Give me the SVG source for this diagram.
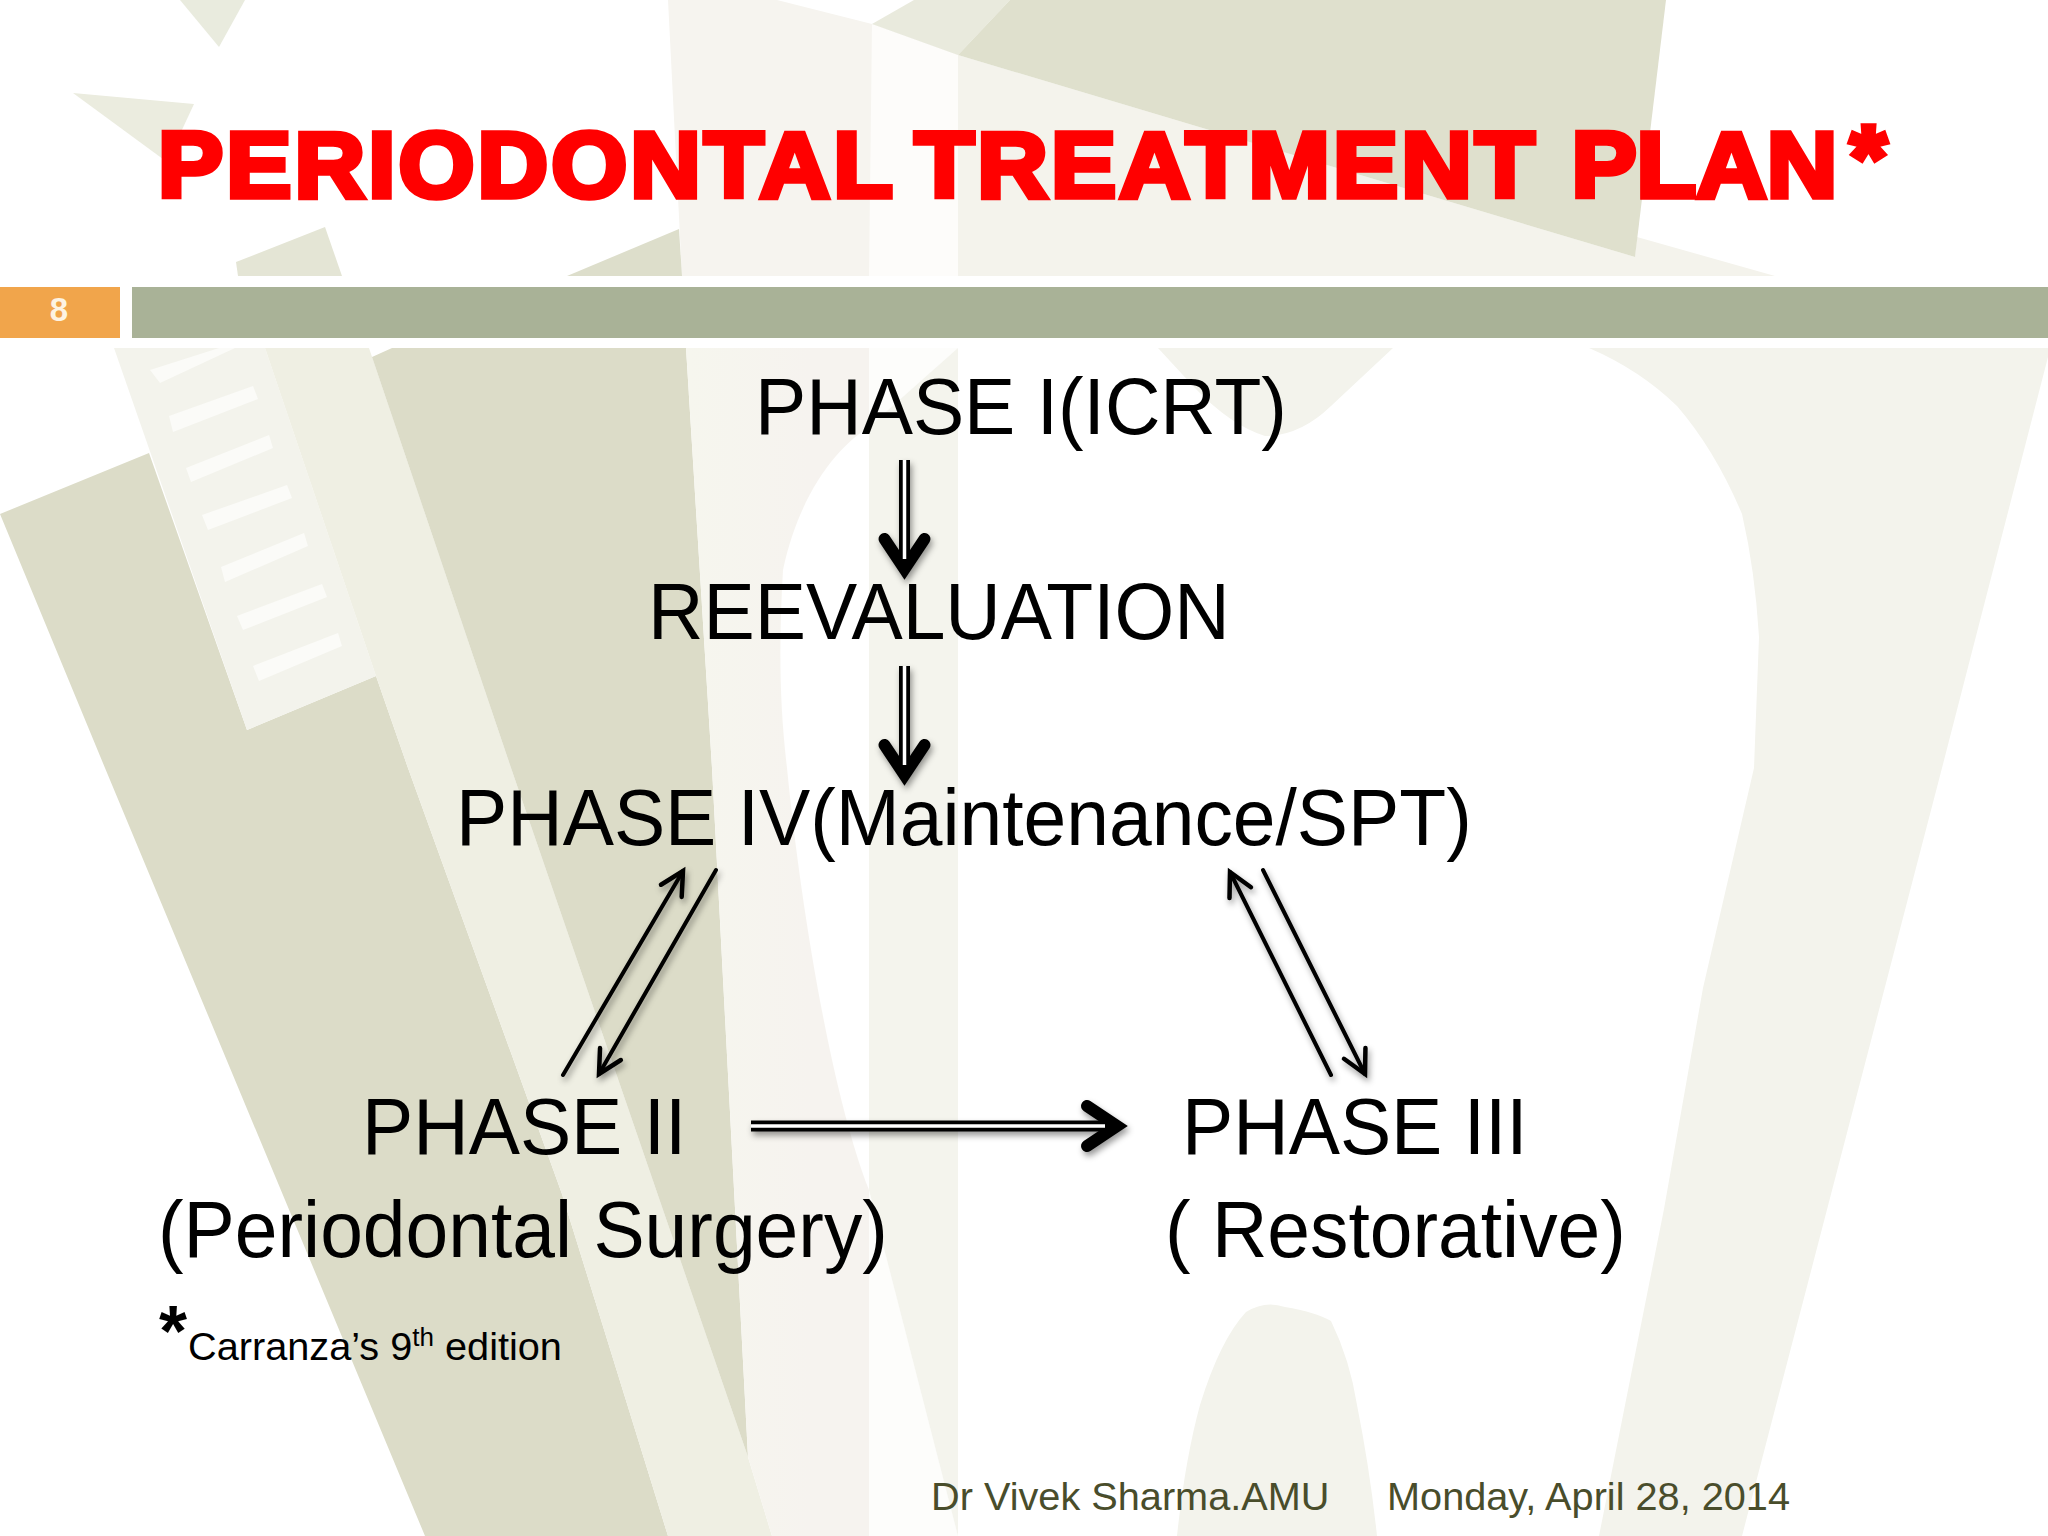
<svg xmlns="http://www.w3.org/2000/svg" width="2048" height="1536" viewBox="0 0 2048 1536">
<defs>
<style>
.n{font-family:"Liberation Sans",Arial,sans-serif;font-size:80px;fill:#000}
.foot{font-family:"Liberation Sans",Arial,sans-serif;font-size:39.7px;fill:#494d2b}
.thin{fill:none;stroke:#000;stroke-width:4;stroke-linecap:round;marker-end:url(#open)}
.thick{fill:none;stroke:#000;stroke-width:11;marker-end:url(#heavy)}
.gap{fill:none;stroke:#fff;stroke-width:3.5}
.rung{fill:#fbfbf8}
</style>
<linearGradient id="pink" gradientUnits="userSpaceOnUse" x1="690" y1="0" x2="810" y2="0">
<stop offset="0" stop-color="#f6f6ee"/><stop offset="1" stop-color="#f6f3ef"/>
</linearGradient>
<marker id="open" markerUnits="userSpaceOnUse" markerWidth="40" markerHeight="40" viewBox="-30 -20 40 40" refX="0" refY="0" orient="auto">
<path d="M-23,-12 L0,0 L-23,12" fill="none" stroke="#000" stroke-width="4.5" stroke-linecap="round" stroke-linejoin="miter"/>
</marker>
<marker id="heavy" markerUnits="userSpaceOnUse" markerWidth="80" markerHeight="80" viewBox="-60 -40 80 80" refX="0" refY="0" orient="auto">
<path d="M-30,-20 L0,0 L-30,20" fill="none" stroke="#000" stroke-width="12" stroke-linecap="round" stroke-linejoin="miter"/>
</marker>
<filter id="sh" x="0" y="0" width="2048" height="1536" filterUnits="userSpaceOnUse">
<feDropShadow dx="2" dy="4" stdDeviation="3" flood-color="#000" flood-opacity="0.4"/>
</filter>
</defs>
<rect width="2048" height="1536" fill="#fff"/>
<g id="background">
<polygon points="180,0 245,0 219,47" fill="#e9ebde"/>
<polygon points="73,93 194,104 167,162" fill="#ebecdf"/>
<polygon points="236,262 325,227 342,276 238,276" fill="#e4e5d5"/>
<polygon points="668,0 777,0 872,24 958,55 958,276 682,276" fill="#f6f4ef"/>
<polygon points="872,24 958,55 958,276 869,276" fill="#fdfcfa"/>
<polygon points="567,276 679,229 682,276" fill="#dddecb"/>
<polygon points="958,55 1635,257 1637,237 1775,276 958,276" fill="#f4f3ec"/>
<polygon points="872,24 914,0 1010,0 958,55" fill="#e9eadd"/>
<polygon points="1010,0 1666,0 1635,257 958,55" fill="#dfe0cd"/>

<polygon points="0,514 149,453 247,730 376,676 408,768 562,1194 668,1536 425,1536 105,768" fill="#dcdcc8"/>
<polygon points="114,348 265,348 376,676 247,730" fill="#f3f3ec"/>
<polygon points="265,348 369,348 511,768 748,1457 772,1536 668,1536 562,1194 408,768 376,676" fill="#efefe3"/>
<polygon points="372,357 392,348 686,348 712,768 748,1457 511,768" fill="#dcdcc8"/>
<path d="M686,348 H869 V427 C840,445 800,490 783,570 C779,640 779,700 787,768 C800,900 830,1090 869,1190 V1536 H772 L748,1457 L712,768 Z" fill="url(#pink)"/>
<polygon points="869,348 958,348 869,427" fill="#fdfdfb"/>
<polygon points="869,1190 958,1536 869,1536" fill="#fdfdfb"/>
<polygon points="958,348 958,1536 869,1190 869,427" fill="#f4f4ed"/>
<path d="M1158,348 H1393 L1331,406 Q1300,436 1265,436 Q1230,425 1194,387 Z" fill="#f3f3ec"/>
<path d="M1589,348 H2048 V357 L1942,768 L1742,1536 H1599 L1664,1209 L1703,988 L1754,768 L1759,637 Q1755,570 1742,514 Q1715,450 1677,406 Q1640,370 1589,348 Z" fill="#f3f3ec"/>
<path d="M1177,1536 Q1185,1460 1200,1405 Q1220,1340 1246,1312 Q1265,1300 1285,1307 Q1315,1312 1331,1321 Q1350,1360 1357,1405 Q1370,1470 1377,1536 Z" fill="#f3f3ec"/>
<polygon class="rung" points="150,370 219,348 235,348 160,383"/>
<polygon class="rung" points="169,416 253,386 258,399 173,432"/>
<polygon class="rung" points="186,468 269,435 273,448 191,482"/>
<polygon class="rung" points="202,515 287,485 292,498 208,530"/>
<polygon class="rung" points="221,567 304,533 308,546 225,582"/>
<polygon class="rung" points="237,616 322,584 327,597 243,630"/>
<polygon class="rung" points="253,666 338,633 342,646 259,681"/>
</g>
<g id="title-bar">
<rect x="0" y="287" width="120" height="51" fill="#f1a54b"/>
<text x="59" y="321" text-anchor="middle" font-family="'Liberation Sans',Arial,sans-serif" font-weight="bold" font-size="33" fill="#fdf3e3">8</text>
<rect x="132" y="287" width="1916" height="51" fill="#a9b297"/>
</g>
<g id="title">
<text transform="translate(0,197) scale(1.05,1)" font-family="'Liberation Sans',Arial,sans-serif" font-weight="bold" font-size="93" fill="#f00" stroke="#f00" stroke-width="5.5" stroke-linejoin="miter"><tspan x="150.5" y="0" letter-spacing="3">PERIODONTAL </tspan><tspan x="871" y="0" letter-spacing="3">TREATMENT </tspan><tspan x="1496.6" y="0">PLAN</tspan><tspan x="1762" y="-8" font-size="90">*</tspan></text>
</g>
<g id="connectors">
<g filter="url(#sh)">
<line class="thick" x1="904.5" y1="460" x2="904.5" y2="569"/>
<line class="gap" x1="904.5" y1="460" x2="904.5" y2="559"/>
</g>
<g filter="url(#sh)">
<line class="thick" x1="904.5" y1="666" x2="904.5" y2="775"/>
<line class="gap" x1="904.5" y1="666" x2="904.5" y2="765"/>
</g>
<g filter="url(#sh)">
<line class="thick" x1="751" y1="1126" x2="1117" y2="1126"/>
<line class="gap" x1="751" y1="1126" x2="1105" y2="1126"/>
</g>
<line class="thin" filter="url(#sh)" x1="563" y1="1075" x2="683" y2="871"/>
<line class="thin" filter="url(#sh)" x1="716" y1="870" x2="599" y2="1074"/>
<line class="thin" filter="url(#sh)" x1="1331" y1="1075" x2="1230" y2="872"/>
<line class="thin" filter="url(#sh)" x1="1263" y1="870" x2="1365" y2="1074"/>
</g>
<g id="phase1"><text class="n" transform="translate(755,434) scale(.96,1)">PHASE I(ICRT)</text></g>
<g id="reevaluation"><text class="n" transform="translate(648,639) scale(.96,1)">REEVALUATION</text></g>
<g id="phase4"><text class="n" transform="translate(456,845) scale(.96,1)">PHASE IV(Maintenance/SPT)</text></g>
<g id="phase2"><text class="n" transform="translate(362,1154) scale(.96,1)">PHASE II</text><text class="n" transform="translate(158,1257) scale(.96,1)">(Periodontal Surgery)</text></g>
<g id="phase3"><text class="n" transform="translate(1182,1154) scale(.96,1)">PHASE III</text><text class="n" transform="translate(1165,1257) scale(.96,1)">( Restorative)</text></g>
<g id="footnote"><text font-family="'Liberation Sans',Arial,sans-serif" font-size="72" font-weight="bold" fill="#000" x="159" y="1356">*</text><text x="188" y="1360" font-family="'Liberation Sans',Arial,sans-serif" font-size="39.7" fill="#000">Carranza’s 9<tspan font-size="26" dy="-14">th</tspan><tspan dy="14"> edition</tspan></text></g>
<g id="footer"><text class="foot" x="931" y="1510">Dr Vivek Sharma.AMU</text><text class="foot" x="1387" y="1510">Monday, April 28, 2014</text></g>
</svg>
